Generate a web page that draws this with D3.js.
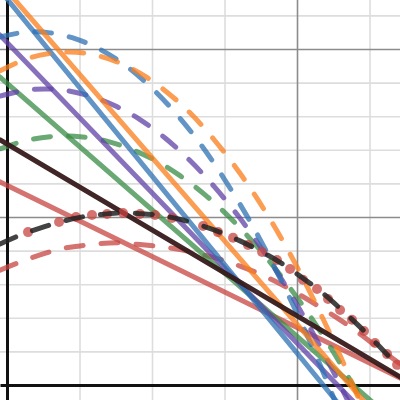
<!DOCTYPE html>
<html>
<head>
<meta charset="utf-8">
<script src="https://cdn.jsdelivr.net/npm/d3@7"></script>
<style>
  html, body { margin: 0; padding: 0; background: #fff; }
  svg { display: block; }
</style>
</head>
<body>
<svg id="chart" width="400" height="400"></svg>
<script>
// ---- grid tick values ----
const xMinorTicks = [0.5, 1, 1.5, 2.5];
const xMajorTicks = [2];
const yMinorTicks = [1, 2, 3, 4, 6, 7, 8, 9, 11];
const yMajorTicks = [5, 10];

// ---- straight solid lines: [x0, x1], [y0, y1] ----
const blueLineX = [0, 2.30],       blueLineY = [11.49, -0.63];
const orangeLineX = [0, 2.50],     orangeLineY = [11.73, -0.67];
const purpleLineX = [-0.05, 2.50], purpleLineY = [10.42, -0.99];
const greenLineX = [-0.05, 2.60],  greenLineY = [9.17, -0.81];
const redLineX = [-0.05, 2.72],    redLineY = [6.05, 0.19];
const blackLineX = [-0.05, 2.72],  blackLineY = [7.30, 0.22];

// ---- dashed curves ----
const blueCurveX = [-0.048, 0.090, 0.193, 0.297, 0.469, 0.641, 0.814, 0.986, 1.159, 1.331, 1.503, 1.676, 1.848, 2.021, 2.159, 2.297];
const blueCurveY = [10.36, 10.48, 10.51, 10.48, 10.31, 9.99, 9.52, 8.89, 8.11, 7.19, 6.10, 4.87, 3.48, 1.94, 0.60, -0.85];

const orangeCurveX = [-0.048, 0.124, 0.297, 0.421, 0.572, 0.745, 0.917, 1.090, 1.262, 1.434, 1.607, 1.779, 1.952, 2.124, 2.297, 2.469];
const orangeCurveY = [9.35, 9.69, 9.87, 9.91, 9.85, 9.64, 9.28, 8.76, 8.10, 7.27, 6.30, 5.18, 3.90, 2.46, 0.88, -0.85];

const purpleCurveX = [-0.048, 0.124, 0.262, 0.400, 0.572, 0.745, 0.917, 1.090, 1.262, 1.434, 1.607, 1.779, 1.952, 2.124, 2.297, 2.434];
const purpleCurveY = [8.60, 8.77, 8.81, 8.77, 8.60, 8.31, 7.90, 7.35, 6.68, 5.88, 4.96, 3.91, 2.74, 1.43, 0.00, -1.22];

const greenCurveX = [-0.048, 0.124, 0.297, 0.400, 0.503, 0.676, 0.848, 1.021, 1.193, 1.366, 1.538, 1.710, 1.883, 2.055, 2.228, 2.400, 2.503];
const greenCurveY = [7.03, 7.27, 7.39, 7.41, 7.39, 7.27, 7.03, 6.69, 6.23, 5.66, 4.98, 4.19, 3.28, 2.27, 1.14, -0.10, -0.89];

const sharedCurveX = [-0.048, 0.090, 0.228, 0.366, 0.503, 0.641, 0.779, 0.917, 1.055, 1.193, 1.331, 1.469, 1.607, 1.745, 1.883, 2.021, 2.159, 2.297, 2.434, 2.572, 2.710];
const redCurveY = [3.42, 3.66, 3.87, 4.05, 4.14, 4.21, 4.23, 4.18, 4.12, 4.03, 3.90, 3.74, 3.54, 3.30, 3.01, 2.68, 2.32, 1.94, 1.52, 1.07, 0.63];
const blackCurveY = [4.20, 4.46, 4.67, 4.85, 4.99, 5.07, 5.12, 5.10, 5.05, 4.93, 4.76, 4.55, 4.29, 3.99, 3.65, 3.24, 2.80, 2.28, 1.73, 1.13, 0.51];

// ---- data points (red dots) ----
const dotX = [0.145, 0.359, 0.476, 0.586, 0.690, 0.800, 0.917, 1.021, 1.138, 1.352, 1.455, 1.559, 1.662, 1.759, 1.862, 1.952, 2.041, 2.138, 2.214, 2.297, 2.379, 2.462, 2.538, 2.621, 2.690];
const dotY = [4.55, 4.85, 5.00, 5.06, 5.09, 5.12, 5.09, 5.06, 4.97, 4.73, 4.55, 4.38, 4.17, 3.96, 3.72, 3.45, 3.13, 2.86, 2.56, 2.23, 1.94, 1.61, 1.25, 0.92, 0.60];

// ---- drawing ----
const W = 400, H = 400;
const x = d3.scaleLinear().domain([-0.0483, 2.7103]).range([0, W]);
const y = d3.scaleLinear().domain([-0.446, 11.458]).range([H, 0]);

const svg = d3.select("#chart");
svg.append("defs").append("clipPath").attr("id", "clip")
  .append("rect").attr("width", W).attr("height", H);

function grid(ticksX, ticksY, color) {
  const gx = svg.append("g").attr("transform", `translate(0,${H})`)
    .call(d3.axisBottom(x).tickValues(ticksX).tickSize(-H).tickFormat(""));
  gx.select(".domain").remove();
  gx.selectAll("line").attr("stroke", color).attr("stroke-width", 1.6);
  const gy = svg.append("g")
    .call(d3.axisLeft(y).tickValues(ticksY).tickSize(-W).tickFormat(""));
  gy.select(".domain").remove();
  gy.selectAll("line").attr("stroke", color).attr("stroke-width", 1.6);
}
grid(xMinorTicks, yMinorTicks, "#dddddd");
grid(xMajorTicks, yMajorTicks, "#8c8c8c");

// axes
const axX = svg.append("g").attr("transform", `translate(0,${y(0)})`)
  .call(d3.axisBottom(x).tickValues([]).tickSizeOuter(0));
axX.select(".domain").attr("stroke", "#111").attr("stroke-width", 3);
const axY = svg.append("g").attr("transform", `translate(${x(0)},0)`)
  .call(d3.axisLeft(y).tickValues([]).tickSizeOuter(0));
axY.select(".domain").attr("stroke", "#111").attr("stroke-width", 3);

const plot = svg.append("g").attr("clip-path", "url(#clip)");
const lineGen = d3.line().x(d => x(d[0])).y(d => y(d[1])).curve(d3.curveCatmullRom.alpha(0.5));
const zip = (xs, ys) => xs.map((v, i) => [v, ys[i]]);

const colors = {
  blue: "#2d70b3", orange: "#fa7e19", green: "#388c46",
  purple: "#6042a6", red: "#c74440"
};

function draw(pts, color, dashed, opacity, width) {
  plot.append("path").datum(pts)
    .attr("d", lineGen)
    .attr("fill", "none")
    .attr("stroke", color)
    .attr("stroke-opacity", opacity)
    .attr("stroke-width", width || 5)
    .attr("stroke-linecap", "round")
    .attr("stroke-dasharray", dashed ? "17 18" : null);
}

draw(zip(sharedCurveX, redCurveY), colors.red, true, 0.75);
draw(zip(redLineX, redLineY), colors.red, false, 0.75);
draw(zip(greenCurveX, greenCurveY), colors.green, true, 0.75);
draw(zip(greenLineX, greenLineY), colors.green, false, 0.75);
draw(zip(purpleCurveX, purpleCurveY), colors.purple, true, 0.75);
draw(zip(purpleLineX, purpleLineY), colors.purple, false, 0.75);
draw(zip(blueCurveX, blueCurveY), colors.blue, true, 0.75);
draw(zip(blueLineX, blueLineY), colors.blue, false, 0.75);
draw(zip(orangeCurveX, orangeCurveY), colors.orange, true, 0.75);
draw(zip(orangeLineX, orangeLineY), colors.orange, false, 0.75);

draw(zip(blackLineX, blackLineY), "#361a1a", false, 0.95);

plot.selectAll("circle.dot").data(zip(dotX, dotY)).enter().append("circle")
  .attr("class", "dot")
  .attr("cx", d => x(d[0])).attr("cy", d => y(d[1])).attr("r", 5)
  .attr("fill", colors.red).attr("fill-opacity", 0.75);

draw(zip(sharedCurveX, blackCurveY), "#222222", true, 0.85);
</script>
</body>
</html>
